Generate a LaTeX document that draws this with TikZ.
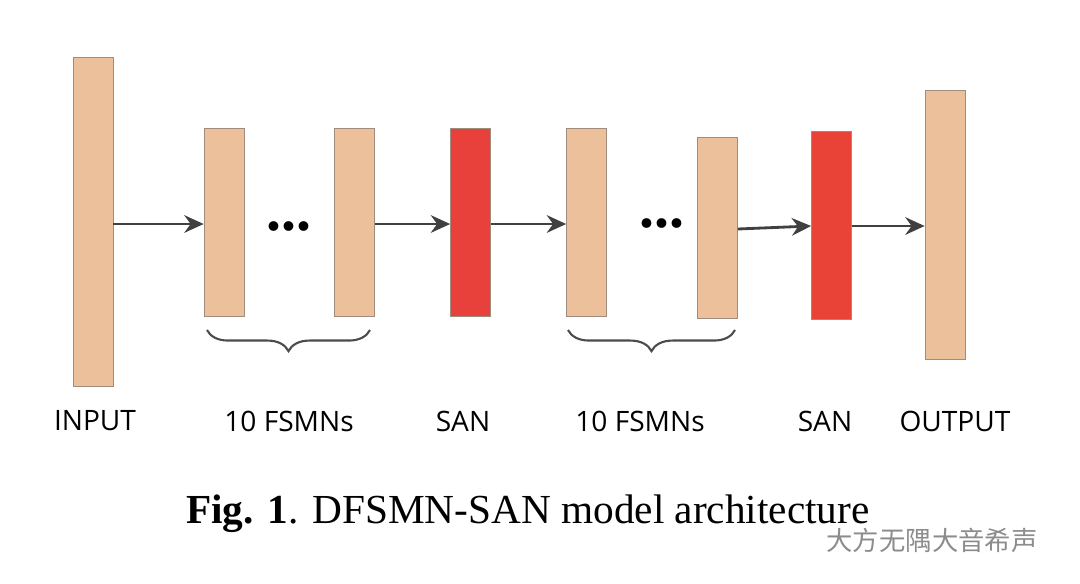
\documentclass[tikz,border=0pt]{standalone}
\usepackage{fontspec}
\setmainfont{Liberation Serif}
\newfontfamily\labelfont{Open Sans}
\newfontfamily\cjk{Noto Sans CJK SC}
\usetikzlibrary{positioning, calc, arrows.meta, decorations.pathreplacing}
\definecolor{peach}{HTML}{EBC09A}
\definecolor{sanred}{HTML}{E8403A}
\definecolor{edgegray}{HTML}{A08C7C}
\begin{document}
\begin{tikzpicture}[x=0.02cm,y=-0.02cm,>={Stealth[length=11pt,width=10pt]},
    layer/.style={draw=edgegray,fill=peach,minimum width=0.8cm,inner sep=0pt},
    san/.style={layer,fill=sanred},
    lbl/.style={font=\labelfont\fontsize{16}{19}\selectfont},
    conn/.style={->,draw=black!75,line width=1.6pt},
    grp/.style={decorate,decoration={brace,mirror,amplitude=12pt},draw=black!70,line width=1.2pt}]
      \useasboundingbox (0,0) rectangle (1080,583);
      \node[layer,minimum height=6.58cm] (input) at (93,221.5) {};
      \node[layer,minimum height=3.76cm] (fa) at (224,222) {};
      \node[layer,minimum height=3.76cm] (fb) at (354.5,222) {};
      \node[san,minimum height=3.76cm] (sa) at (470.5,222) {};
      \node[layer,minimum height=3.76cm] (fc) at (586.5,222) {};
      \node[layer,minimum height=3.62cm] (fd) at (717.5,227.5) {};
      \node[san,minimum height=3.76cm,fill=sanred!95!orange] (sb) at (831.5,225) {};
      \node[layer,minimum height=5.38cm] (output) at (945,224.5) {};
      %
      \node[font=\bfseries\fontsize{34}{36}\selectfont] (dotsa) at (289,226) {...};
      \node[font=\bfseries\fontsize{34}{36}\selectfont] (dotsb) at (662,223) {...};
      %
      \draw[conn] (input.east |- 0,224) -- (fa.west |- 0,224);
      \draw[conn] (fb.east |- 0,224) -- (sa.west |- 0,224);
      \draw[conn] (sa.east |- 0,224) -- (fc.west |- 0,224);
      \draw[conn] (fd.east |- 0,229) -- (sb.west |- 0,226);
      \draw[conn] (sb.east |- 0,226) -- (output.west |- 0,226);
      %
      \draw[grp] (207,330) -- (370,330);
      \draw[grp] (568,330) -- (735,330);
      %
      \node[lbl] (linput) at (95,421) {INPUT};
      \node[lbl] (lfa) at (289,421) {10 FSMNs};
      \node[lbl] (lsa) at (463,421) {SAN};
      \node[lbl] (lfb) at (640,421) {10 FSMNs};
      \node[lbl] (lsb) at (825,421) {SAN};
      \node[lbl] (loutput) at (955,421) {OUTPUT};
      %
      \node[font=\fontsize{23.5}{26}\selectfont] (caption) at (528,514) {\textbf{Fig. 1}. DFSMN-SAN model architecture};
      \node[font=\cjk\fontsize{15}{18}\selectfont,text=black!45] (mark) at (932,540) {大方无隅大音希声};
\end{tikzpicture}
\end{document}
